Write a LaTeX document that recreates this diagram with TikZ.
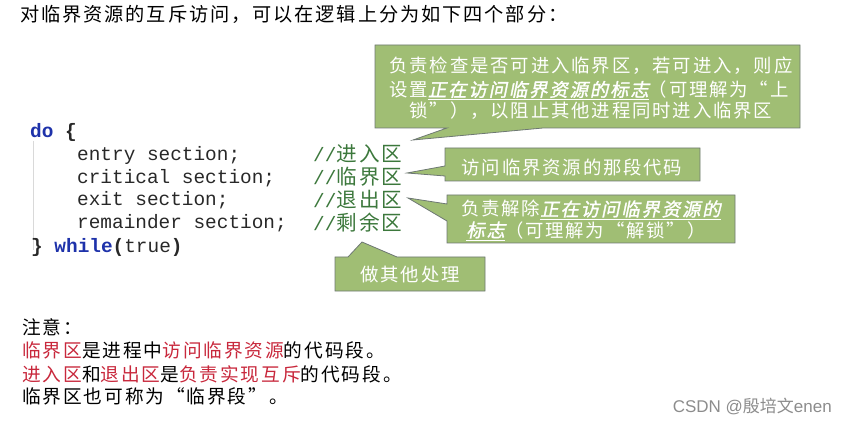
\documentclass[tikz,border=0pt]{standalone}
\usepackage{fontspec}
\setmainfont{Noto Sans CJK SC}
\newfontfamily\cjk[LetterSpace=10]{Noto Sans CJK SC}
\newfontfamily\cjkplain{Noto Sans CJK SC}
\newfontfamily\cjkemph[LetterSpace=10,FakeSlant=0.2,FakeBold=1.5]{Noto Sans CJK SC}
\newfontfamily\codefont{Liberation Mono}
\newfontfamily\wmfont{Liberation Sans}
\definecolor{calloutfill}{RGB}{160,190,116}
\definecolor{calloutedge}{RGB}{110,120,115}
\definecolor{codeblue}{RGB}{30,50,170}
\definecolor{codegray}{RGB}{40,40,40}
\definecolor{commentgreen}{RGB}{60,120,60}
\definecolor{notered}{RGB}{200,40,60}
\newcommand{\emphmark}[1]{\underline{{\cjkemph #1}}}
\tikzset{
  callout/.style={fill=calloutfill, draw=calloutedge, line width=0.8pt, line join=miter},
  calltext/.style={anchor=base, inner sep=0pt, text=white, font=\cjk\fontsize{18.4}{22}\selectfont},
  bodytext/.style={anchor=base west, inner sep=0pt, text=black, font=\cjk\fontsize{18.7}{22}\selectfont},
  titletext/.style={anchor=base west, inner sep=0pt, text=black, font=\cjk\fontsize{19.2}{22}\selectfont},
  codetext/.style={anchor=base west, inner sep=0pt, text=codegray, font=\codefont\fontsize{19.4}{23}\selectfont},
  commenttext/.style={anchor=base west, inner sep=0pt, text=commentgreen, font=\codefont\fontsize{19.4}{23}\selectfont},
  wmtext/.style={anchor=base east, inner sep=0pt, text=black!45, font=\wmfont\fontsize{17}{20}\selectfont},
}
\begin{document}
\begin{tikzpicture}[x=1pt,y=-1pt]
\useasboundingbox (0,0) rectangle (847,425);

% title
\node[titletext] (title) at (20,22) {对临界资源的互斥访问，可以在逻辑上分为如下四个部分：};

% code block
\draw[black!15, line width=0.8pt] (33,141) -- (33,250);
\node[codetext] (l0) at (30,138) {\textcolor{codeblue}{\bfseries do} \textbf{\{}};
\node[codetext] (l1) at (77,160.5) {entry section;};
\node[codetext] (l2) at (77,183.3) {critical section;};
\node[codetext] (l3) at (77,206) {exit section;};
\node[codetext] (l4) at (77,229) {remainder section;};
\node[codetext] (l5) at (31,252) {\textbf{\}} \textcolor{codeblue}{\bfseries while}\textbf{(}true\textbf{)}};

\node[commenttext] (c1) at (313,162) {//{\cjk\fontsize{20.6}{22}\selectfont 进入区}};
\node[commenttext] (c2) at (313,185) {//{\cjk\fontsize{20.6}{22}\selectfont 临界区}};
\node[commenttext] (c3) at (313,207.5) {//{\cjk\fontsize{20.6}{22}\selectfont 退出区}};
\node[commenttext] (c4) at (313,230.5) {//{\cjk\fontsize{20.6}{22}\selectfont 剩余区}};

% callout 1 (top)
\path[callout] (375,45) -- (800,45) -- (800,128) -- (543,128) -- (413,140) -- (447,128) -- (375,128) -- cycle;
\node[calltext] (t1a) at (591,73) {负责检查是否可进入临界区，若可进入，则应};
\node[calltext] (t1b) at (589,96.5) {设置\emphmark{正在访问临界资源的标志}（可理解为“上};
\node[calltext] (t1c) at (591,118) {锁”），以阻止其他进程同时进入临界区};

% callout 2 (middle)
\path[callout] (445,148) -- (700,148) -- (700,181) -- (445,181) -- (445,176) -- (407,173) -- (445,166) -- cycle;
\node[calltext] (t2) at (572,175) {访问临界资源的那段代码};

% callout 3
\path[callout] (447,195) -- (735,195) -- (735,243) -- (447,243) -- (447,221) -- (408,198) -- (447,204) -- cycle;
\node[calltext] (t3a) at (591,216) {负责解除\emphmark{正在访问临界资源的}};
\node[calltext] (t3b) at (586,237) {\emphmark{标志}（可理解为“解锁”）};

% callout 4 (bottom)
\path[callout] (335,257) -- (348,257) -- (362,242) -- (397,257) -- (485,257) -- (485,291) -- (335,291) -- cycle;
\node[calltext] (t4) at (410,281) {做其他处理};

% notes
\node[bodytext] (n1) at (22,334) {注意：};
\node[bodytext] (n2) at (22,357.5) {\textcolor{notered}{临界区}是进程中\textcolor{notered}{访问临界资源}的代码段。};
\node[bodytext] (n3) at (22,381) {\textcolor{notered}{进入区}和\textcolor{notered}{退出区}是\textcolor{notered}{负责实现互斥}的代码段。};
\node[bodytext] (n4) at (22,403.5) {临界区也可称为“临界段”。};

% watermark
\node[wmtext] (wm) at (832,412) {CSDN @{\cjkplain 殷培文}enen};
\end{tikzpicture}
\end{document}
